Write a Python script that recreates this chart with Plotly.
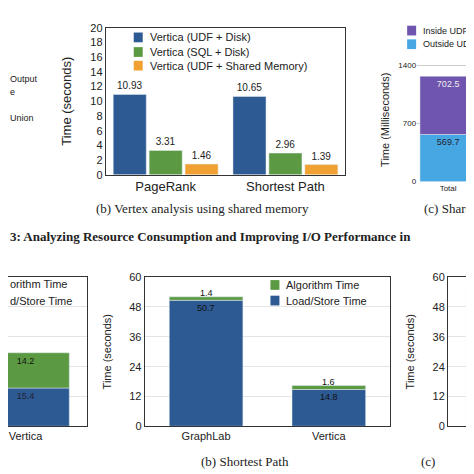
import plotly.graph_objects as go

# Top-middle: Vertex analysis using shared memory
algos = ["PageRank", "Shortest Path"]
udf_disk = [10.93, 10.65]
sql_disk = [3.31, 2.96]
udf_shm = [1.46, 1.39]

# Top-right (partial): Shared memory breakdown
sh_cat = [0]
sh_outside = [569.7]
sh_inside = [702.5]

# Bottom-left (partial)
bl_x = [1]
bl_load = [15.4]
bl_algo = [14.2]

# Bottom-middle: Shortest path
sp_systems = ["GraphLab", "Vertica"]
sp_load = [50.7, 14.8]
sp_algo = [1.4, 1.6]

# Bottom-right (partial)
br_x = [1]
br_load = [49.0]
br_algo = [6.5]

BLUE = "#2d5a92"; GREEN = "#5b9a43"; ORANGE = "#f0a131"
PURPLE = "#6f55ae"; LBLUE = "#46a7e2"
W = H = 474
def px(x): return x / W
def py(y): return 1 - y / H

F = dict(family="Liberation Sans, Arial", color="#222")
fig = go.Figure()

# top middle (grouped)
for name, vals, col in [("Vertica (UDF + Disk)", udf_disk, BLUE),
                        ("Vertica (SQL + Disk)", sql_disk, GREEN),
                        ("Vertica (UDF + Shared Memory)", udf_shm, ORANGE)]:
    fig.add_bar(x=algos, y=vals, name=name, marker_color=col, text=[f"{v:.2f}" for v in vals],
                textposition="outside", textfont=dict(size=10, **F), cliponaxis=False,
                xaxis="x", yaxis="y", showlegend=False, offsetgroup=name)

def stack(xs, low, high, cl, ch, xa, ya, g, tl=None, th=None):
    fig.add_bar(x=xs, y=low, marker_color=cl, width=0.6, xaxis=xa, yaxis=ya, offsetgroup=g,
                text=tl, textposition="inside" if tl else None, insidetextanchor="end",
                textfont=dict(size=9, color="#223"), showlegend=False)
    fig.add_bar(x=xs, y=high, base=low, marker_color=ch, width=0.6, xaxis=xa, yaxis=ya, offsetgroup=g,
                text=th, textposition="inside" if th else None, insidetextanchor="end",
                textfont=dict(size=9, color="#eee" if ch == PURPLE else "#111"), showlegend=False)

stack(sh_cat, sh_outside, sh_inside, LBLUE, PURPLE, "x2", "y2", "s",
      [str(v) for v in sh_outside], [str(v) for v in sh_inside])
stack(bl_x, bl_load, bl_algo, BLUE, GREEN, "x3", "y3", "s",
      [str(v) for v in bl_load], [str(v) for v in bl_algo])
stack(sp_systems, sp_load, sp_algo, BLUE, GREEN, "x4", "y4", "s")
stack(br_x, br_load, br_algo, BLUE, GREEN, "x5", "y5", "s")

ann = []
def A(x, y, t, size=11, xanchor="center", font=F):
    ann.append(dict(x=x, y=y, xref="paper", yref="paper", text=t, showarrow=False,
                    xanchor=xanchor, yanchor="middle", font=dict(size=size, **font)))
for i, v in enumerate(sp_load):
    ann.append(dict(x=sp_systems[i], y=v - 3, xref="x4", yref="y4", text=str(v), showarrow=False,
                    font=dict(size=9, color="#111")))
    ann.append(dict(x=sp_systems[i], y=v + sp_algo[i] + 1.5, xref="x4", yref="y4", text=str(sp_algo[i]),
                    showarrow=False, font=dict(size=9, color="#111")))

def leg(x, y, col, t, size=11):
    fig.add_shape(type="rect", xref="paper", yref="paper", x0=px(x), x1=px(x + 9),
                  y0=py(y + 5), y1=py(y - 5), fillcolor=col, line_width=0)
    A(px(x + 14), py(y), t, size=size, xanchor="left")
leg(126, 24, BLUE, "Vertica (UDF + Disk)")
leg(126, 39, GREEN, "Vertica (SQL + Disk)")
leg(126, 53, ORANGE, "Vertica (UDF + Shared Memory)")
leg(400, 17, PURPLE, "Inside UDF", 9)
leg(400, 31, LBLUE, "Outside UDF", 9)
leg(263, 278, GREEN, "Algorithm Time")
leg(263, 294, BLUE, "Load/Store Time")
A(0, py(277), "orithm Time", xanchor="left")
A(0, py(294), "d/Store Time", xanchor="left")
A(0, py(67), "Output", size=9, xanchor="left")
A(0, py(80), "e", size=9, xanchor="left")
A(0, py(107), "Union", size=9, xanchor="left")
SER = dict(family="Liberation Serif, Times New Roman", color="#222")
A(px(195), py(200), "(b) Vertex analysis using shared memory", size=13, font=SER)
A(px(415), py(200), "(c) Share", size=13, xanchor="left", font=SER)
A(0, py(228), "<b>3: Analyzing Resource Consumption and Improving I/O Performance in</b>",
  size=13, xanchor="left", font=SER)
A(px(237), py(459), "(b) Shortest Path", size=13, font=SER)
A(px(412), py(459), "(c)", size=13, xanchor="left", font=SER)

line = dict(showline=True, linecolor="#333", mirror=True, ticks="")
fig.update_layout(
    width=W, height=H, margin=dict(l=0, r=0, t=0, b=0), paper_bgcolor="white",
    plot_bgcolor="white", barmode="group", bargap=0.1, bargroupgap=0.08, annotations=ann,
    font=F,
    xaxis=dict(domain=[px(98), px(338)], anchor="y", tickfont=dict(size=13, **F), **line),
    yaxis=dict(domain=[py(165), py(14)], range=[0, 20], dtick=2, anchor="x", showgrid=False,
               title=dict(text="Time (seconds)", font=dict(size=13)), tickfont=dict(size=11, **F), **line),
    xaxis2=dict(type="linear", domain=[px(410), 1], range=[-0.33, 0.35], tickvals=[0], ticktext=["Total"],
                anchor="y2", showline=False, tickfont=dict(size=8, **F)),
    yaxis2=dict(domain=[py(172), py(45)], range=[0, 1494], tickvals=[0, 700, 1400], anchor="x2",
                showgrid=True, gridcolor="#ccc", tickfont=dict(size=8, **F),
                title=dict(text="Time (Milliseconds)", font=dict(size=11), standoff=6)),
    xaxis3=dict(type="linear", domain=[0, px(79)], range=[0.88, 1.42], tickvals=[1], ticktext=["Vertica"],
                anchor="y3", tickfont=dict(size=11, **F), **line),
    yaxis3=dict(domain=[py(423), py(270)], range=[0, 60], dtick=12, anchor="x3",
                showgrid=True, gridcolor="#e4e4e4", showticklabels=False, **line),
    xaxis4=dict(domain=[px(137), px(383)], anchor="y4", tickfont=dict(size=11, **F), **line),
    yaxis4=dict(domain=[py(423), py(270)], range=[0, 60], dtick=12, anchor="x4",
                showgrid=True, gridcolor="#e4e4e4", title=dict(text="Time (seconds)", font=dict(size=11)),
                tickfont=dict(size=11, **F), **line),
    xaxis5=dict(type="linear", domain=[px(441), 1], range=[0.58, 0.80], showticklabels=False,
                anchor="y5", **line),
    yaxis5=dict(domain=[py(423), py(270)], range=[0, 60], dtick=12, anchor="x5",
                showgrid=True, gridcolor="#e4e4e4", title=dict(text="Time (seconds)", font=dict(size=11)),
                tickfont=dict(size=11, **F), **line),
)
fig.write_html("out.html")
